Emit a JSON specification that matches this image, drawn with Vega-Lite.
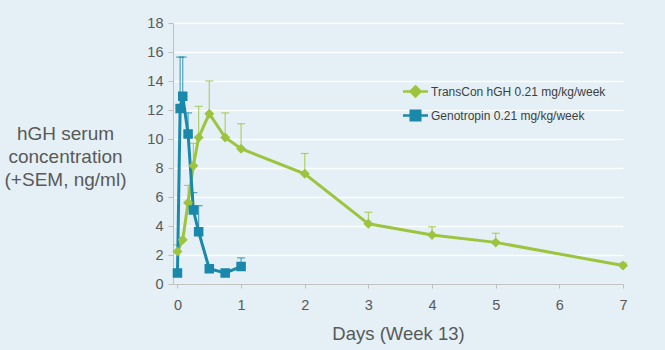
{
  "$schema": "https://vega.github.io/schema/vega-lite/v6.json",
  "width": 450,
  "height": 261,
  "autosize": {"type": "none"},
  "padding": {"left": 173, "top": 23, "right": 42, "bottom": 66},
  "background": "#e4f0f5",
  "config": {
    "view": {"stroke": null},
    "font": "Liberation Sans",
    "axis": {
      "domainColor": "#bfbfbf",
      "tickColor": "#bfbfbf",
      "labelColor": "#595959",
      "titleColor": "#595959",
      "labelFont": "Liberation Sans",
      "titleFont": "Liberation Sans",
      "titleFontWeight": "normal",
      "labelOverlap": false
    }
  },
  "data": {
    "values": [
      {"t": 0, "v": 2.25, "err": 2.7, "series": "TransCon hGH 0.21 mg/kg/week"},
      {"t": 0.083, "v": 3.05, "err": null, "series": "TransCon hGH 0.21 mg/kg/week"},
      {"t": 0.167, "v": 5.6, "err": 6.8, "series": "TransCon hGH 0.21 mg/kg/week"},
      {"t": 0.25, "v": 8.15, "err": 9.7, "series": "TransCon hGH 0.21 mg/kg/week"},
      {"t": 0.333, "v": 10.1, "err": 12.25, "series": "TransCon hGH 0.21 mg/kg/week"},
      {"t": 0.5, "v": 11.75, "err": 14.0, "series": "TransCon hGH 0.21 mg/kg/week"},
      {"t": 0.75, "v": 10.1, "err": 11.8, "series": "TransCon hGH 0.21 mg/kg/week"},
      {"t": 1, "v": 9.33, "err": 11.05, "series": "TransCon hGH 0.21 mg/kg/week"},
      {"t": 2, "v": 7.6, "err": 9.0, "series": "TransCon hGH 0.21 mg/kg/week"},
      {"t": 3, "v": 4.15, "err": 4.95, "series": "TransCon hGH 0.21 mg/kg/week"},
      {"t": 4, "v": 3.38, "err": 3.95, "series": "TransCon hGH 0.21 mg/kg/week"},
      {"t": 5, "v": 2.87, "err": 3.5, "series": "TransCon hGH 0.21 mg/kg/week"},
      {"t": 7, "v": 1.27, "err": 1.45, "series": "TransCon hGH 0.21 mg/kg/week"},
      {"t": 0, "v": 0.76, "err": null, "series": "Genotropin 0.21 mg/kg/week"},
      {"t": 0.042, "v": 12.1, "err": 15.65, "series": "Genotropin 0.21 mg/kg/week"},
      {"t": 0.083, "v": 12.95, "err": 15.65, "series": "Genotropin 0.21 mg/kg/week"},
      {"t": 0.167, "v": 10.35, "err": 11.8, "series": "Genotropin 0.21 mg/kg/week"},
      {"t": 0.25, "v": 5.1, "err": 6.3, "series": "Genotropin 0.21 mg/kg/week"},
      {"t": 0.333, "v": 3.6, "err": 5.4, "series": "Genotropin 0.21 mg/kg/week"},
      {"t": 0.5, "v": 1.05, "err": null, "series": "Genotropin 0.21 mg/kg/week"},
      {"t": 0.75, "v": 0.76, "err": null, "series": "Genotropin 0.21 mg/kg/week"},
      {"t": 1, "v": 1.2, "err": 1.8, "series": "Genotropin 0.21 mg/kg/week"}
    ]
  },
  "encoding": {
    "x": {
      "field": "t", "type": "quantitative",
      "scale": {"domain": [-0.07, 7], "nice": false, "zero": false},
      "axis": {
        "title": "Days (Week 13)", "values": [0, 1, 2, 3, 4, 5, 6, 7],
        "grid": false, "labelFontSize": 14.5, "titleFontSize": 18.5,
        "tickSize": 4, "labelPadding": 10, "titlePadding": 13,
        "labelFlush": false
      }
    },
    "y": {
      "field": "v", "type": "quantitative",
      "scale": {"domain": [0, 18], "nice": false},
      "axis": {
        "values": [0, 2, 4, 6, 8, 10, 12, 14, 16, 18],
        "tickCount": 10,
        "gridColor": "#ffffff", "gridWidth": 1.5, "gridOpacity": 0.9,
        "labelFontSize": 14.5, "tickSize": 5, "labelPadding": 5,
        "title": ["hGH serum", "concentration", "(+SEM, ng/ml)"],
        "titleFontSize": 19, "titleAngle": 0, "titleAlign": "center",
        "titleBaseline": "middle", "titleLineHeight": 23,
        "titleX": -108, "titleY": 110
      }
    },
    "color": {
      "field": "series", "type": "nominal",
      "scale": {
        "domain": ["TransCon hGH 0.21 mg/kg/week", "Genotropin 0.21 mg/kg/week"],
        "range": ["#9cc43f", "#1a88aa"]
      },
      "legend": {
        "title": null,
        "orient": "none",
        "legendX": 229,
        "legendY": 55,
        "labelFontSize": 12,
        "labelColor": "#404040",
        "labelLimit": 300,
        "rowPadding": -6,
        "labelOffset": 2,
        "symbolStrokeWidth": 2.5,
        "encode": {
          "symbols": {
            "update": {
              "stroke": {"scale": "color", "field": "value"},
              "strokeWidth": {"value": 2.5}
            }
          }
        }
      }
    }
  },
  "layer": [
    {
      "transform": [{"filter": "datum.err != null"}],
      "mark": {"type": "rule", "strokeWidth": 1.2, "opacity": 0.75},
      "encoding": {
        "y2": {"field": "err"}
      }
    },
    {
      "transform": [{"filter": "datum.err != null"}],
      "mark": {"type": "tick", "orient": "horizontal", "size": 8, "thickness": 1.2, "opacity": 0.75},
      "encoding": {
        "y": {
          "field": "err", "type": "quantitative",
          "axis": {
            "values": [0, 2, 4, 6, 8, 10, 12, 14, 16, 18],
            "tickCount": 10,
            "gridColor": "#ffffff", "gridWidth": 1.5, "gridOpacity": 0.9,
            "labelFontSize": 14.5, "tickSize": 5, "labelPadding": 5,
            "title": ["hGH serum", "concentration", "(+SEM, ng/ml)"],
            "titleFontSize": 19, "titleAngle": 0, "titleAlign": "center",
            "titleBaseline": "middle", "titleLineHeight": 23,
            "titleX": -108, "titleY": 110
          }
        }
      }
    },
    {
      "mark": {"type": "line", "strokeWidth": 3}
    },
    {
      "mark": {"type": "point", "filled": true, "opacity": 1, "strokeWidth": 0},
      "encoding": {
        "size": {
          "field": "series", "type": "nominal",
          "scale": {"domain": ["TransCon hGH 0.21 mg/kg/week", "Genotropin 0.21 mg/kg/week"], "range": [567, 567]},
          "legend": null
        },
        "shape": {
          "field": "series", "type": "nominal",
          "scale": {
            "domain": ["TransCon hGH 0.21 mg/kg/week", "Genotropin 0.21 mg/kg/week"],
            "range": [
              "M-1.05,0L1.05,0M0,-0.42L0.42,0L0,0.42L-0.42,0Z",
              "M-1.05,0L1.05,0M-0.4,-0.4L0.4,-0.4L0.4,0.4L-0.4,0.4Z"
            ]
          }
        }
      }
    }
  ]
}
